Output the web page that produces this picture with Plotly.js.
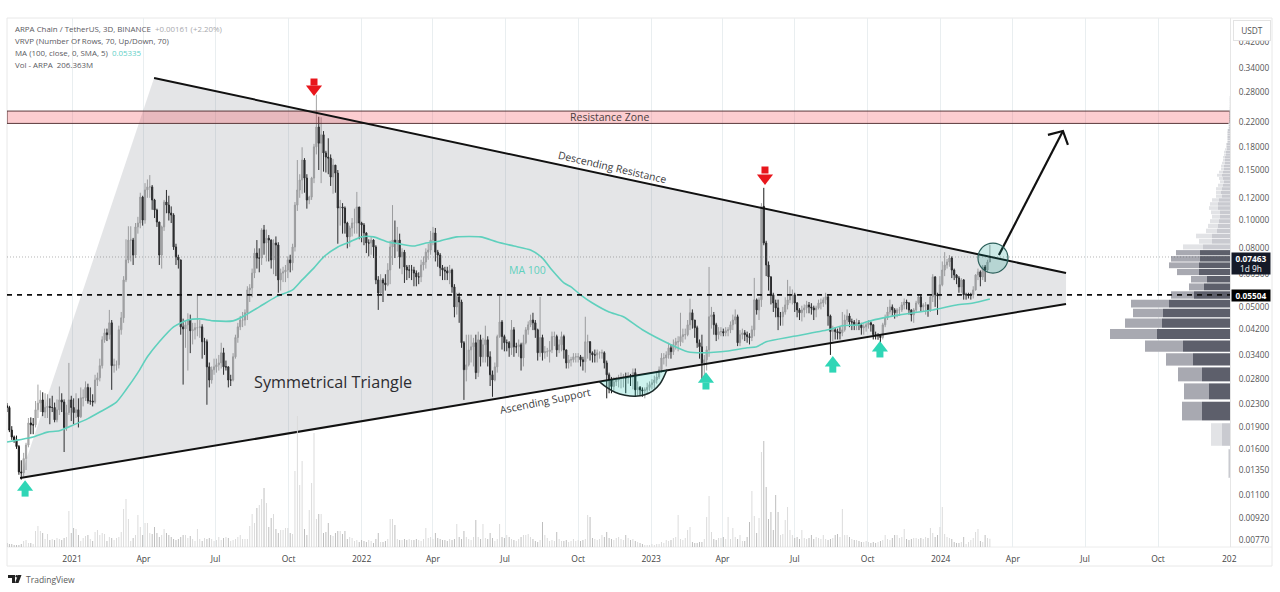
<!DOCTYPE html>
<html><head><meta charset="utf-8">
<script src="https://cdn.plot.ly/plotly-3.0.1.min.js"></script>
<style>html,body{margin:0;padding:0;background:#fff}#c{width:1280px;height:592px}</style></head>
<body><div id="c"></div>
<script>
const closes=[
.0223,.0186,.0176,.0172,.0163,.0133,.0132,.0148,.0165,.0197,
.0194,.0194,.0219,.0231,.0237,.0215,.0223,.0225,.0223,.0223,
.0202,.0219,.0237,.0233,.0190,.0214,.0237,.0223,.0214,.0219,
.0207,.0241,.0241,.0262,.0235,.0235,.0233,.0278,.0283,.0312,
.0384,.0406,.0400,.0440,.0312,.0314,.0314,.0416,.0458,.0621,
.0729,.0855,.0855,.0758,.0950,.0980,.1207,.1004,.1278,.1310,
.1310,.1179,.1088,.0988,.0758,.0950,.1160,.1132,.1062,.1045,
.0809,.0746,.0729,.0426,.0419,.0433,.0450,.0413,.0416,.0423,
.0423,.0426,.0378,.0378,.0309,.0278,.0302,.0309,.0314,.0319,
.0346,.0309,.0309,.0278,.0278,.0335,.0391,.0426,.0450,.0450,
.0477,.0573,.0582,.0656,.0770,.0740,.0740,.0927,.0835,.0868,
.0855,.0729,.0835,.0822,.0621,.0656,.0662,.0672,.0729,.0712,
.0809,.1132,.1278,.1384,.1625,.1406,.1179,.1207,.1406,.1806,
.2118,.1860,.1990,.1720,.1665,.1650,.1418,.1560,.1463,.1106,
.1115,.1106,.0980,.0877,.0942,.0980,.0980,.1115,.0980,.0965,
.0905,.0835,.0835,.0855,.0809,.0621,.0559,.0621,.0606,.0597,
.0672,.0809,.0855,.0835,.0855,.0746,.0776,.0689,.0672,.0672,
.0672,.0656,.0636,.0636,.0700,.0717,.0776,.0789,.0855,.0905,
.0776,.0758,.0684,.0672,.0667,.0656,.0672,.0587,.0500,.0542,
.0520,.0375,.0302,.0314,.0354,.0363,.0375,.0295,.0384,.0335,
.0369,.0384,.0335,.0290,.0278,.0309,.0394,.0443,.0394,.0375,
.0375,.0360,.0416,.0363,.0363,.0369,.0332,.0375,.0416,.0433,
.0450,.0440,.0416,.0346,.0391,.0346,.0349,.0349,.0354,.0394,
.0394,.0354,.0369,.0394,.0354,.0319,.0327,.0327,.0335,.0335,
.0335,.0327,.0322,.0378,.0378,.0346,.0340,.0340,.0346,.0346,
.0346,.0319,.0290,.0278,.0264,.0274,.0278,.0283,.0283,.0285,
.0283,.0288,.0285,.0295,.0257,.0262,.0257,.0255,.0257,.0262,
.0268,.0272,.0278,.0285,.0302,.0332,.0332,.0340,.0360,.0349,
.0369,.0378,.0378,.0394,.0400,.0400,.0433,.0477,.0450,.0423,
.0375,.0363,.0319,.0327,.0354,.0462,.0469,.0433,.0400,.0410,
.0410,.0406,.0413,.0416,.0433,.0450,.0462,.0375,.0400,.0406,
.0400,.0394,.0391,.0416,.0529,.0488,.0529,.1120,.0835,.0700,
.0636,.0551,.0516,.0496,.0462,.0462,.0480,.0508,.0529,.0551,
.0551,.0516,.0488,.0477,.0488,.0496,.0508,.0500,.0496,.0488,
.0496,.0516,.0516,.0529,.0542,.0465,.0410,.0416,.0410,.0406,
.0406,.0416,.0450,.0465,.0443,.0443,.0433,.0440,.0433,.0423,
.0426,.0433,.0440,.0433,.0400,.0397,.0397,.0391,.0433,.0458,
.0480,.0500,.0488,.0477,.0488,.0488,.0508,.0520,.0516,.0488,
.0469,.0488,.0516,.0542,.0500,.0508,.0508,.0488,.0542,.0636,
.0551,.0546,.0597,.0672,.0700,.0717,.0740,.0672,.0646,.0631,
.0587,.0621,.0551,.0551,.0551,.0551,.0573,.0646,.0662,.0636,
.0689,.0672,.0717,.0746];
const highs=[
.0231,.0226,.0192,.0178,.0178,.0165,.0146,.0155,.0168,.0205,
.0206,.0205,.0235,.0268,.0256,.0252,.0250,.0248,.0240,.0245,
.0232,.0238,.0264,.0250,.0238,.0228,.0319,.0245,.0240,.0250,
.0240,.0262,.0258,.0275,.0270,.0262,.0248,.0290,.0295,.0330,
.0395,.0420,.0420,.0488,.0450,.0330,.0325,.0430,.0480,.0640,
.0860,.0955,.0955,.0870,.0980,.1030,.1250,.1220,.1350,.1390,
.1440,.1330,.1190,.1100,.0990,.0960,.1180,.1278,.1220,.1120,
.1060,.0830,.0760,.0730,.0455,.0450,.0475,.0470,.0440,.0440,
.0551,.0450,.0435,.0390,.0385,.0320,.0310,.0330,.0330,.0340,
.0375,.0360,.0325,.0310,.0290,.0345,.0400,.0440,.0465,.0480,
.0490,.0590,.0600,.0680,.0800,.0855,.0800,.0940,.0965,.0930,
.0890,.0860,.0860,.0880,.0840,.0680,.0690,.0700,.0750,.0760,
.0830,.1160,.1625,.1450,.1800,.1650,.1450,.1220,.1420,.1850,
.2745,.2300,.2290,.2050,.1750,.1935,.1700,.1640,.1560,.1500,
.1180,.1150,.1120,.0990,.0960,.1020,.1100,.1258,.1020,.0990,
.0980,.0910,.0860,.0880,.0860,.0820,.0640,.0650,.0630,.0650,
.0710,.0850,.1132,.1000,.0950,.0900,.0800,.0790,.0700,.0700,
.0700,.0690,.0670,.0660,.0730,.0750,.0800,.0830,.0920,.0950,
.0942,.0790,.0770,.0700,.0690,.0690,.0700,.0680,.0600,.0560,
.0560,.0530,.0380,.0400,.0400,.0400,.0390,.0400,.0410,.0400,
.0390,.0430,.0395,.0350,.0300,.0320,.0400,.0546,.0450,.0400,
.0385,.0380,.0450,.0425,.0375,.0385,.0375,.0400,.0425,.0445,
.0470,.0477,.0450,.0420,.0542,.0400,.0365,.0360,.0380,.0410,
.0410,.0400,.0385,.0410,.0400,.0355,.0340,.0335,.0345,.0345,
.0345,.0340,.0335,.0462,.0400,.0380,.0350,.0355,.0355,.0350,
.0355,.0350,.0325,.0295,.0285,.0285,.0285,.0290,.0295,.0292,
.0295,.0296,.0292,.0305,.0305,.0275,.0265,.0262,.0262,.0272,
.0275,.0280,.0288,.0295,.0310,.0345,.0345,.0350,.0375,.0370,
.0385,.0390,.0395,.0477,.0420,.0420,.0450,.0534,.0490,.0450,
.0430,.0385,.0400,.0340,.0365,.0689,.0500,.0480,.0440,.0425,
.0425,.0420,.0425,.0425,.0445,.0470,.0490,.0470,.0415,.0420,
.0415,.0410,.0405,.0430,.0631,.0535,.0540,.1150,.1300,.0850,
.0720,.0640,.0560,.0530,.0530,.0480,.0500,.0540,.0621,.0590,
.0575,.0560,.0520,.0495,.0505,.0510,.0525,.0520,.0515,.0505,
.0505,.0530,.0535,.0540,.0560,.0550,.0470,.0430,.0425,.0420,
.0425,.0480,.0470,.0490,.0475,.0455,.0450,.0455,.0450,.0440,
.0435,.0440,.0450,.0445,.0435,.0410,.0405,.0400,.0440,.0470,
.0500,.0530,.0510,.0495,.0495,.0500,.0520,.0535,.0530,.0520,
.0490,.0495,.0525,.0550,.0550,.0515,.0520,.0510,.0545,.0650,
.0640,.0560,.0640,.0720,.0776,.0735,.0758,.0750,.0680,.0650,
.0640,.0630,.0625,.0560,.0560,.0560,.0590,.0650,.0680,.0670,
.0700,.0700,.0730,.0822];
const lows=[
.0215,.0183,.0172,.0168,.0160,.0130,.0125,.0128,.0135,.0162,
.0180,.0180,.0190,.0205,.0215,.0208,.0205,.0205,.0195,.0215,
.0198,.0198,.0210,.0215,.0156,.0185,.0210,.0200,.0195,.0205,
.0190,.0205,.0225,.0235,.0230,.0228,.0225,.0230,.0265,.0275,
.0305,.0375,.0380,.0385,.0257,.0295,.0300,.0305,.0400,.0440,
.0610,.0710,.0720,.0700,.0740,.0900,.0940,.0960,.0975,.1200,
.1200,.1090,.1020,.0950,.0700,.0680,.0920,.1060,.1000,.0980,
.0790,.0700,.0680,.0400,.0268,.0360,.0300,.0345,.0370,.0385,
.0395,.0390,.0330,.0340,.0228,.0262,.0270,.0290,.0295,.0300,
.0305,.0290,.0300,.0262,.0265,.0275,.0330,.0375,.0415,.0425,
.0430,.0450,.0520,.0540,.0630,.0680,.0660,.0700,.0760,.0720,
.0720,.0680,.0650,.0640,.0560,.0570,.0610,.0610,.0630,.0660,
.0670,.0780,.1080,.1200,.1240,.1250,.1100,.1140,.1180,.1350,
.1700,.1500,.1350,.1480,.1470,.1450,.1320,.1240,.1250,.0830,
.0960,.0900,.0900,.0800,.0810,.0880,.0900,.0900,.0860,.0840,
.0820,.0770,.0750,.0760,.0740,.0600,.0488,.0550,.0520,.0570,
.0590,.0600,.0700,.0740,.0780,.0680,.0650,.0606,.0620,.0630,
.0620,.0590,.0590,.0600,.0610,.0670,.0680,.0730,.0760,.0820,
.0720,.0690,.0640,.0620,.0620,.0620,.0600,.0560,.0460,.0470,
.0440,.0360,.0237,.0275,.0310,.0320,.0310,.0280,.0285,.0310,
.0320,.0320,.0310,.0265,.0243,.0275,.0295,.0390,.0355,.0350,
.0350,.0335,.0340,.0335,.0345,.0335,.0300,.0310,.0370,.0400,
.0425,.0415,.0390,.0325,.0335,.0325,.0330,.0335,.0320,.0345,
.0365,.0335,.0345,.0350,.0330,.0305,.0305,.0310,.0320,.0320,
.0320,.0310,.0300,.0295,.0330,.0325,.0320,.0320,.0320,.0330,
.0330,.0305,.0240,.0250,.0250,.0255,.0265,.0262,.0260,.0262,
.0250,.0270,.0265,.0258,.0243,.0245,.0245,.0243,.0240,.0248,
.0255,.0258,.0260,.0270,.0280,.0295,.0315,.0310,.0330,.0330,
.0340,.0355,.0350,.0365,.0375,.0385,.0395,.0415,.0420,.0390,
.0360,.0330,.0275,.0280,.0300,.0335,.0420,.0400,.0380,.0385,
.0395,.0395,.0395,.0395,.0405,.0415,.0435,.0365,.0365,.0385,
.0380,.0375,.0370,.0380,.0395,.0470,.0450,.0500,.0820,.0640,
.0570,.0510,.0480,.0460,.0415,.0430,.0430,.0470,.0490,.0515,
.0510,.0480,.0460,.0450,.0445,.0460,.0475,.0475,.0470,.0450,
.0460,.0490,.0490,.0500,.0510,.0430,.0340,.0380,.0385,.0385,
.0385,.0395,.0410,.0435,.0425,.0415,.0415,.0415,.0415,.0400,
.0400,.0410,.0420,.0410,.0385,.0385,.0384,.0375,.0385,.0425,
.0450,.0470,.0465,.0455,.0460,.0465,.0480,.0490,.0490,.0470,
.0445,.0440,.0480,.0510,.0480,.0480,.0470,.0462,.0480,.0520,
.0500,.0469,.0530,.0590,.0640,.0680,.0690,.0630,.0620,.0600,
.0560,.0560,.0530,.0530,.0535,.0530,.0535,.0570,.0620,.0590,
.0620,.0611,.0660,.0720];
const firstOpen=.0226;
const opens=[firstOpen,...closes.slice(0,-1)];
const volumes=[
100,75,75,50,50,50,75,150,175,100,
100,75,400,525,400,350,200,325,175,200,
175,225,200,175,225,250,900,350,475,450,
300,150,225,275,300,200,150,375,425,300,
350,325,150,250,225,175,225,250,375,950,
1200,700,150,225,300,800,500,300,600,600,
350,325,500,350,250,300,450,350,300,250,
200,175,200,250,300,300,225,275,200,150,
450,200,150,225,200,225,200,150,175,250,
175,225,250,225,150,175,200,250,300,200,
200,200,525,825,600,975,1050,1200,1475,1100,
500,725,825,450,350,425,425,475,475,350,
325,1900,3275,1550,2150,450,300,925,1600,2850,
700,825,825,350,375,600,300,275,350,400,
400,325,400,200,250,225,150,175,125,175,
150,125,175,150,100,200,350,125,125,150,
200,700,700,550,200,175,175,200,175,200,
175,175,200,175,150,200,475,225,250,200,
350,225,200,175,175,150,200,175,200,575,
250,200,400,250,200,175,250,675,250,200,
575,225,200,350,225,150,200,575,250,225,
300,250,200,175,150,200,250,300,300,325,
250,200,150,125,175,625,300,225,150,175,
150,375,200,150,150,175,125,150,200,150,
175,150,175,200,800,750,225,200,175,200,
300,250,375,225,200,175,225,250,200,175,
300,225,175,200,150,125,100,75,50,50,
50,75,50,75,75,125,100,175,150,175,
225,250,800,200,175,225,425,500,125,100,
100,125,125,200,750,1275,375,200,175,225,
225,250,200,750,200,475,250,200,300,150,
150,250,625,1400,775,350,725,2375,2650,1500,
700,875,425,1300,875,300,325,675,1000,425,
300,225,250,200,425,225,200,225,300,200,
250,225,200,300,200,175,200,225,300,325,
250,950,300,300,250,200,175,175,150,125,
125,150,125,100,125,100,125,150,175,300,
200,175,225,300,300,225,250,450,200,175,
200,225,225,200,225,200,250,225,475,350,
250,300,500,1000,325,250,225,200,125,100,
100,125,250,75,125,175,225,375,450,150,
125,300,225,206];
const maIndex=[0,5,11,17,22,28,34,39,46,50,55,59,64,70,76,81,87,95,99,106,113,120,124,129,133,139,144,149,154,160,165,171,176,182,189,199,206,213,220,225,229,234,237,241,246,253,259,267,279,286,292,303,311,315,319,330,345,351,358,361,375,389,399,406,413];
const maValues=[.0169,.0172,.0176,.0183,.0185,.0194,.0204,.0215,.0233,.0257,.0295,.0335,.0378,.0426,.0450,.0454,.0447,.0447,.0462,.0500,.0542,.0573,.0621,.0684,.0746,.0809,.0842,.0877,.0877,.0842,.0829,.0815,.0835,.0849,.0877,.0877,.0842,.0815,.0789,.0740,.0672,.0606,.0587,.0551,.0516,.0480,.0462,.0416,.0369,.0349,.0346,.0351,.0360,.0363,.0378,.0394,.0416,.0430,.0433,.0443,.0469,.0488,.0508,.0516,.0533];
const profileDown=[1.5,8,28,21,28,37,47,73,68,67,61,36,26,23,31,31,30,30,27,18,18,13,12,11,10,10,12,12,11,8,9,8,7,6,7,8,7,6,6,5,5,5,4,4,3,3,3,2,2,2,2,2,2,1,1,1,.4,.4,.4,.4,.4,.3,.3,.3,.2,.2,.2,.2,.2,.2];
const profileUp=[.5,11,20,25,24,27,38,47,37,30,38,23,15,16,22,30,29,24,20,13,16,11,10,9,8,9,9,8,7,6,5,6,5,4,4,5,4,3,3,3,2,2,2,2,2,1,1,1,1,1,1,1,.5,.5,.5,.5,.2,.2,.2,.2,.2,.2,.2,.2,.2,.2,.2,.2,.2,.2];
const valueAreaRows=[2,17];
const profileBottom=.0125, profileStep=.0037;
const yTickValues=[.42,.34,.28,.22,.18,.15,.12,.10,.08,.065,.05,.042,.034,.028,.023,.019,.016,.0135,.011,.0092,.0077];
const yTickLabels=["0.42000","0.34000","0.28000","0.22000","0.18000","0.15000","0.12000","0.10000","0.08000","0.06500","0.05000","0.04200","0.03400","0.02800","0.02300","0.01900","0.01600","0.01350","0.01100","0.00920","0.00770"];
const xTickValues=["2021-01-01","2021-04-01","2021-07-01","2021-10-01","2022-01-01","2022-04-01","2022-07-01","2022-10-01","2023-01-01","2023-04-01","2023-07-01","2023-10-01","2024-01-01","2024-04-01","2024-07-01","2024-10-01"];
const xTickLabels=["2021","Apr","Jul","Oct","2022","Apr","Jul","Oct","2023","Apr","Jul","Oct","2024","Apr","Jul","Oct"];
const lastPrice=.07463, keyLevel=.05504, zoneTop=.2407, zoneBottom=.218;
const triIndex=[61.8,445,445,5.5,61.8], triPrice=[.3138,.0656,.0512,.01266,.3138];
const bowlIndex=[249,252,255.5,259.7,264,268,271.4,274.4,276,277.3];
const bowlPrice=[.0274,.0262,.0252,.0246,.0244,.0247,.0255,.0270,.0285,.0302];
const upIndex=[7.6,293.7,347,366.8], upHead=[.01177,.0280,.03187,.03595], upStem=[.01122,.0265,.03035,.03427];
const downIndex=[129,318.5], downHead=[.2873,.1407], downStem=[.3039,.1500];
const arrowIndex=[416.8,443.7,null,437.4,443.7,445.8], arrowPrice=[.0758,.2052,null,.1988,.2052,.1834];

const t0=Date.UTC(2020,9,11), day=864e5;
const dateAt=i=>i===null?null:new Date(t0+i*3*day).toISOString().slice(0,19).replace('T',' ');
const dates=closes.map((_,i)=>dateAt(i));
const L=7,R=1230,T=18,B=547;
const px=x=>(x-L)/(R-L), py=y=>1-(y-T)/(B-T);
const yLo=Math.log10(.00728), yHi=Math.log10(.508);
const xEnd=dateAt(513.9);

const rowsLo=profileDown.map((_,k)=>profileBottom+profileStep*k);
const rowsHi=rowsLo.map(v=>v+profileStep);
const rowCentre=rowsLo.map((v,k)=>(Math.log10(v)+Math.log10(rowsHi[k]))/2);
const rowWidth=rowsLo.map((v,k)=>(Math.log10(rowsHi[k])-Math.log10(v))*.88);
const inVA=k=>k>=valueAreaRows[0]&&k<=valueAreaRows[1];

const gg=i=>i.map(dateAt);
const traces=[
 {type:'scatter',mode:'lines',x:gg(triIndex),y:triPrice,fill:'toself',fillcolor:'rgba(120,123,134,.2)',line:{width:0},hoverinfo:'skip'},
 {type:'scatter',mode:'lines',x:[dateAt(0),xEnd,xEnd,dateAt(0),dateAt(0)],y:[zoneTop,zoneTop,zoneBottom,zoneBottom,zoneTop],fill:'toself',fillcolor:'rgba(242,54,69,.25)',line:{width:1,color:'#5b3a3c'},hoverinfo:'skip'},
 {type:'scatter',mode:'lines',x:gg(triIndex.slice(0,2)),y:triPrice.slice(0,2),line:{color:'#111',width:2},hoverinfo:'skip'},
 {type:'scatter',mode:'lines',x:gg(triIndex.slice(2,4)),y:triPrice.slice(2,4),line:{color:'#111',width:2},hoverinfo:'skip'},
 {type:'scatter',mode:'lines',x:gg(bowlIndex),y:bowlPrice,fill:'toself',fillcolor:'rgba(0,188,170,.2)',line:{color:'#1c2b2a',width:1.5,shape:'spline'},hoverinfo:'skip'},
 {type:'candlestick',x:dates,open:opens,high:highs,low:lows,close:closes,whiskerwidth:0,
  increasing:{line:{color:'#a4a4a4',width:1},fillcolor:'#b2b2b2'},
  decreasing:{line:{color:'#1a1a1a',width:1},fillcolor:'#1a1a1a'},hoverinfo:'skip'},
 {type:'scatter',mode:'lines',x:gg(maIndex),y:maValues,line:{color:'#5fd0bd',width:1.6,shape:'spline',smoothing:.6},hoverinfo:'skip'},
 {type:'scatter',mode:'lines',x:gg(arrowIndex),y:arrowPrice,line:{color:'#111',width:2.2},connectgaps:false,hoverinfo:'skip'},
 {type:'scatter',mode:'markers',x:[dateAt(414.3)],y:[.074],marker:{size:30,color:'rgba(0,150,136,.2)',line:{color:'#2b5f5a',width:1.2}},hoverinfo:'skip'},
 {type:'scatter',mode:'markers',x:gg(upIndex),y:upHead,marker:{symbol:'triangle-up',size:14,color:'#2fd6b6'},hoverinfo:'skip'},
 {type:'scatter',mode:'markers',x:gg(upIndex),y:upStem,marker:{symbol:'square',size:7,color:'#2fd6b6'},hoverinfo:'skip'},
 {type:'scatter',mode:'markers',x:gg(downIndex),y:downHead,marker:{symbol:'triangle-down',size:14,color:'#e8161c'},hoverinfo:'skip'},
 {type:'scatter',mode:'markers',x:gg(downIndex),y:downStem,marker:{symbol:'square',size:7,color:'#e8161c'},hoverinfo:'skip'},
 {type:'bar',x:dates,y:volumes,yaxis:'y2',width:1.15*day,marker:{color:closes.map((c,i)=>c>=opens[i]?'#d8d8d8':'#b8b8b8'),line:{width:0}},hoverinfo:'skip'},
 {type:'bar',orientation:'h',xaxis:'x3',yaxis:'y3',x:profileDown,y:rowCentre,width:rowWidth,base:0,marker:{color:profileDown.map((_,k)=>inVA(k)?'#5d5f6b':'#c9cad0'),line:{width:0}},hoverinfo:'skip'},
 {type:'bar',orientation:'h',xaxis:'x3',yaxis:'y3',x:profileUp,y:rowCentre,width:rowWidth,base:profileDown,marker:{color:profileUp.map((_,k)=>inVA(k)?'#a8a9b1':'#e2e3e6'),line:{width:0}},hoverinfo:'skip'}
];
const fnt=(s,c,f)=>({family:f||'"Open Sans", sans-serif',size:s,color:c});
const note=(x,y,text,size,color,extra)=>Object.assign({xref:'paper',yref:'paper',x:px(x),y:py(y),text,showarrow:false,font:fnt(size,color),xanchor:'center',yanchor:'middle'},extra||{});
const leftNote=(x,y,text,size,color)=>note(x,y,text,size,color,{xanchor:'left',align:'left'});
const layout={
 width:1280,height:592,paper_bgcolor:'#fff',plot_bgcolor:'#fff',showlegend:false,barmode:'overlay',
 margin:{l:L,r:1280-R,t:T,b:592-B,pad:0},
 xaxis:{type:'date',range:[dateAt(0),xEnd],tickmode:'array',tickvals:xTickValues,ticktext:xTickLabels,tickfont:fnt(8.5,'#444'),showgrid:true,gridcolor:'#e9eef0',gridwidth:1,zeroline:false,showline:false,ticks:'',ticklabelstandoff:5,rangeslider:{visible:false},fixedrange:true},
 yaxis:{type:'log',side:'right',range:[yLo,yHi],tickmode:'array',tickvals:yTickValues,ticktext:yTickLabels,tickfont:fnt(8.3,'#555'),showgrid:false,zeroline:false,showline:true,linecolor:'#e6e6e6',linewidth:1,ticks:'',ticklabelstandoff:6,fixedrange:true},
 yaxis2:{overlaying:'y',range:[0,13225],visible:false,fixedrange:true},
 xaxis3:{overlaying:'x',anchor:'y3',range:[1223,0],visible:false,fixedrange:true},
 yaxis3:{overlaying:'y',anchor:'x3',range:[yLo,yHi],visible:false,fixedrange:true},
 shapes:[
  {type:'rect',xref:'paper',yref:'paper',x0:px(7),x1:px(1272),y0:py(18),y1:py(566),line:{color:'#e8e8e8',width:1},layer:'below'},
  {type:'line',xref:'paper',yref:'paper',x0:px(7),x1:px(1272),y0:py(547),y1:py(547),line:{color:'#ececec',width:1},layer:'below'},
  {type:'line',xref:'paper',yref:'y',x0:0,x1:1,y0:lastPrice,y1:lastPrice,line:{color:'rgba(90,90,90,.45)',width:1,dash:'1px,2px'},layer:'above'},
  {type:'line',xref:'paper',yref:'y',x0:0,x1:1,y0:keyLevel,y1:keyLevel,line:{color:'#111',width:1.8,dash:'5px,5px'},layer:'above'},
  {type:'path',xref:'paper',yref:'paper',path:`M ${px(8)} ${py(575)} L ${px(15)} ${py(575)} L ${px(15)} ${py(583)} L ${px(12)} ${py(583)} L ${px(12)} ${py(578)} L ${px(8)} ${py(578)} Z`,fillcolor:'#222',line:{width:0}},
  {type:'circle',xref:'paper',yref:'paper',x0:px(15.5),x1:px(18),y0:py(575),y1:py(577.5),fillcolor:'#222',line:{width:0}},
  {type:'path',xref:'paper',yref:'paper',path:`M ${px(18)} ${py(575)} L ${px(21.5)} ${py(575)} L ${px(18.5)} ${py(583)} L ${px(15)} ${py(583)} Z`,fillcolor:'#222',line:{width:0}}
 ],
 annotations:[
  leftNote(13,29,'ARPA Chain / TetherUS, 3D, BINANCE  <span style="color:#a9a9ad">+0.00161 (+2.20%)</span>',7.9,'#5a5a5f'),
  leftNote(13,41,'VRVP (Number Of Rows, 70, Up/Down, 70)',7.9,'#5a5a5f'),
  leftNote(13,53,'MA (100, close, 0, SMA, 5)  <span style="color:#5fd0c8">0.05335</span>',7.9,'#5a5a5f'),
  leftNote(13,65,'Vol - ARPA  206.363M',7.9,'#5a5a5f'),
  note(609,117,'Resistance Zone',10.5,'#4a3d3f'),
  note(612,167,'Descending Resistance',10.4,'#3c3c40',{textangle:13}),
  note(545,401,'Ascending Support',10.5,'#3c3c40',{textangle:-11.5}),
  note(333,382,'Symmetrical Triangle',16.2,'#2c2c30'),
  note(527,270,'MA 100',10.5,'#5fd0bd'),
  leftNote(1220,558,'202',8.5,'#444'),
  note(1252,30.5,'USDT',8.3,'#555',{bgcolor:'#fff',bordercolor:'#e3e3e3',borderwidth:1,borderpad:3,width:30,height:13}),
  note(1251,263,'<b>0.07463</b><br>1d 9h',8.3,'#fff',{bgcolor:'#151a28',width:38,height:21,borderpad:0}),
  note(1251,295,'<b>0.05504</b>',8.3,'#fff',{bgcolor:'#000',width:38,height:11,borderpad:0}),
  leftNote(24,579,'TradingView',8.5,'#5a5a5a')
 ]
};
Plotly.newPlot('c',traces,layout,{staticPlot:true,displayModeBar:false});
</script></body></html>
